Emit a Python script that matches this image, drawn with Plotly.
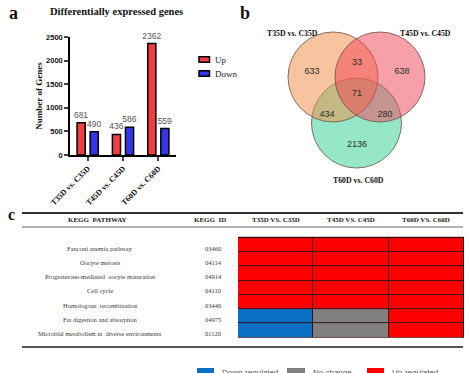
import plotly.graph_objects as go

W, H = 474, 373
def PX(x): return x / W
def PY(y): return 1 - y / H

SERIF = "Liberation Serif"
SANS = "Liberation Sans"

# ---- Panel a data ----
comparisons = ["T35D vs. C35D", "T45D vs. C45D", "T60D vs. C60D"]
series_names = ["Up", "Down"]
up_counts = [681, 436, 2362]
down_counts = [490, 586, 559]

# ---- Panel b data (Venn region counts) ----
venn_sets = ["T35D vs. C35D", "T45D vs. C45D", "T60D vs. C60D"]
venn_regions = ["only1", "1&2", "only2", "1&2&3", "1&3", "2&3", "only3"]
venn_counts = [633, 33, 638, 71, 434, 280, 2136]

# ---- Panel c data ----
pathways = ["Fanconi anemia pathway", "Oocyte meiosis",
            "Progesterone-mediated  oocyte maturation", "Cell cycle",
            "Homologous  recombination", "Fat digestion and absorption",
            "Microbial metabolism in  diverse environments"]
kegg_ids = ["03460", "04114", "04914", "04110", "03440", "04975", "01120"]
# 1 = up, 0 = no change, -1 = down ; columns = comparisons
status = [[1, 1, 1], [1, 1, 1], [1, 1, 1], [1, 1, 1], [1, 1, 1],
          [-1, 0, 1], [-1, 0, 1]]
status_labels = ["Down-regulated", "No change", "Up-regulated"]

RED_BAR, BLUE_BAR = "#F23D40", "#3535EC"
bar_colors = [RED_BAR, BLUE_BAR]
fig = go.Figure()

for name, vals, col, off in zip(series_names, [up_counts, down_counts], bar_colors, [-0.3, 0.07]):
    fig.add_trace(go.Bar(x=comparisons, y=vals, name=name,
                         marker=dict(color=col, line=dict(color="black", width=1.5)),
                         width=0.23, offset=off, text=vals, textposition="outside", constraintext="none",
                         textfont=dict(family=SANS, size=8.5, color="#555"), cliponaxis=False,
                         xaxis="x", yaxis="y", showlegend=False))

shapes = []
ann = []
def A(text, x, y, size, family=SERIF, color="#111", xref="paper", yref="paper", **kw):
    d = dict(text=text, x=x, y=y, xref=xref, yref=yref, showarrow=False,
             font=dict(family=family, size=size, color=color))
    d.setdefault("xanchor", "center")
    d.setdefault("yanchor", "middle")
    d.update(kw)
    ann.append(d)

# manual legend for panel a
for i, (name, col) in enumerate(zip(series_names, bar_colors)):
    yc = 59.5 + 14 * i
    shapes.append(dict(type="rect", xref="paper", yref="paper", x0=PX(199), x1=PX(209.5), y0=PY(yc + 2.8), y1=PY(yc - 2.8),
                       fillcolor=col, line=dict(color="black", width=1.5)))
    A(name, PX(213), PY(yc), 9, color="#222", xanchor="left")

# ---- Venn ----
venn_centers = [(333, 77), (380, 77), (356.5, 123)]
venn_r = 45
venn_fill = ["rgba(241,137,65,0.5)", "rgba(241,65,85,0.5)", "rgba(45,205,145,0.5)"]
for i in [2, 0, 1]:
    cx, cy = venn_centers[i]
    shapes.append(dict(type="circle", xref="x2", yref="y2", x0=cx - venn_r, x1=cx + venn_r,
                       y0=cy - venn_r, y1=cy + venn_r, fillcolor=venn_fill[i], layer="below",
                       line=dict(color="rgba(110,80,70,0.8)", width=1)))
region_pos = [(312, 72), (357, 63), (402, 72), (357, 94), (327, 115), (385, 115), (357, 145)]
fig.add_trace(go.Scatter(x=[p[0] for p in region_pos], y=[p[1] for p in region_pos], mode="text",
                         text=[str(v) for v in venn_counts], textfont=dict(family=SANS, size=9, color="#2b2b2b"),
                         showlegend=False, hoverinfo="skip", xaxis="x2", yaxis="y2"))

# ---- Heatmap ----
fig.add_trace(go.Heatmap(z=status, x=comparisons, y=pathways, zmin=-1, zmax=1,
                         colorscale=[[0, "#0B6FC6"], [0.333, "#0B6FC6"], [0.333, "#808080"], [0.667, "#808080"],
                                     [0.667, "#FF0000"], [1, "#FF0000"]],
                         showscale=False, xgap=1, ygap=1, xaxis="x3", yaxis="y3", hoverinfo="skip"))
shapes.append(dict(type="rect", xref="x3 domain", yref="y3 domain", x0=0, x1=1, y0=0, y1=1,
                   fillcolor="#3a1212", line=dict(width=0), layer="below"))

# table lines
shapes.append(dict(type="line", xref="paper", yref="paper", x0=PX(22), x1=PX(463), y0=PY(213), y1=PY(213), line=dict(color="#333", width=2)))
shapes.append(dict(type="line", xref="paper", yref="paper", x0=PX(22), x1=PX(463), y0=PY(227), y1=PY(227), line=dict(color="#999", width=1.5)))
shapes.append(dict(type="line", xref="paper", yref="paper", x0=PX(22), x1=PX(463), y0=PY(347), y1=PY(347), line=dict(color="#555", width=2)))

A("<b>a</b>", PX(13), PY(13), 18)
A("<b>b</b>", PX(245), PY(13), 18)
A("<b>c</b>", PX(11), PY(214), 16)
A("<b>Differentially expressed genes</b>", PX(116), PY(11), 10.5)
venn_label_pos = [(292, 33), (425, 33), (358, 180)]
for name, (lx, ly) in zip(venn_sets, venn_label_pos):
    A("<b>" + name + "</b>", PX(lx), PY(ly), 7.8)
A("<b>KEGG  PATHWAY</b>", PX(97), PY(220), 7, color="#222")
A("<b>KEGG  ID</b>", PX(210), PY(220), 7, color="#222")
for c in comparisons:
    A("<b>" + c.replace("vs.", "VS.") + "</b>", c, PY(220), 7, color="#222", xref="x3")
for p, k in zip(pathways, kegg_ids):
    A(p, PX(100), p, 6.5, color="#3a3a3a", yref="y3", yshift=-3)
    A(k, PX(213), p, 6.5, color="#3a3a3a", yref="y3", yshift=-3)
# bottom legend
leg_colors = ["#0B6FC6", "#808080", "#FF0000"]
leg_x = [(197, 214), (287, 305), (367, 384)]
for lab, col, (x0, x1) in zip(status_labels, leg_colors, leg_x):
    shapes.append(dict(type="rect", xref="paper", yref="paper", x0=PX(x0), x1=PX(x1), y0=PY(378), y1=PY(368),
                       fillcolor=col, line=dict(width=0)))
    A(lab, PX(x1 + 6), PY(366), 8, family=SANS, color="#555", xanchor="left", yanchor="top")

fig.update_layout(
    width=W, height=H, margin=dict(l=0, r=0, t=0, b=0, autoexpand=False),
    paper_bgcolor="white", plot_bgcolor="rgba(0,0,0,0)",
    barmode="overlay", showlegend=False,
    xaxis=dict(domain=[PX(70), PX(176)], range=[-0.5, 2.5], showline=True, linecolor="black", linewidth=1.5,
               ticks="outside", ticklen=4, tickwidth=1.5, tickangle=-45, showgrid=False, automargin=False,
               tickfont=dict(family=SERIF, size=8, color="#111", weight="bold"), anchor="y", fixedrange=True),
    yaxis=dict(domain=[PY(155), PY(37)], range=[0, 2500], dtick=500, showline=True, linecolor="black", linewidth=1.5,
               ticks="outside", ticklen=4, tickwidth=1.5, showgrid=False, zeroline=False, automargin=False,
               tickfont=dict(family=SANS, size=7.5, color="#111", weight="bold"),
               title=dict(text="<b>Number of Genes</b>", font=dict(family=SERIF, size=9, color="#111"), standoff=2),
               anchor="x"),
    xaxis2=dict(domain=[PX(260), PX(460)], range=[260, 460], visible=False, anchor="y2", automargin=False),
    yaxis2=dict(domain=[PY(190), 1], range=[190, 0], visible=False, anchor="x2", automargin=False),
    xaxis3=dict(domain=[PX(238), PX(464)], visible=False, anchor="y3", automargin=False),
    yaxis3=dict(domain=[PY(337.7), PY(236.7)], autorange="reversed", visible=False, anchor="x3", automargin=False),
    shapes=shapes, annotations=ann,
)

fig.write_html("out.html", config={"displayModeBar": False},
               post_script="document.body.style.margin='0';document.body.style.overflow='hidden';")
